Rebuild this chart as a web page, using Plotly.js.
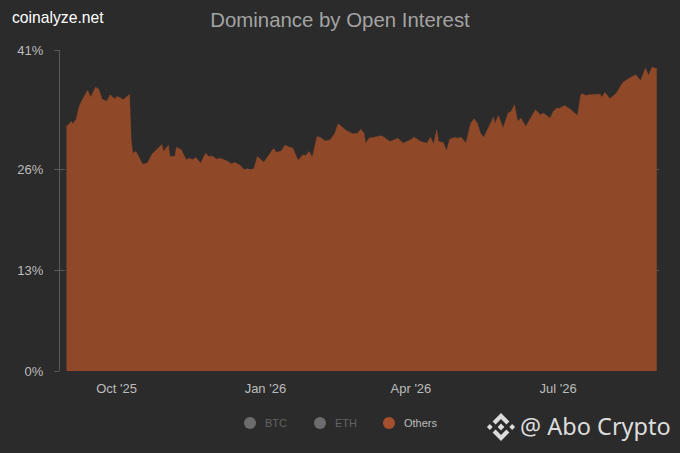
<!DOCTYPE html>
<html>
<head>
<meta charset="utf-8">
<script src="https://cdn.plot.ly/plotly-3.0.1.min.js"></script>
<style>html,body{margin:0;padding:0;background:#2b2b2b;overflow:hidden}</style>
</head>
<body>
<div id="chart" style="width:680px;height:453px"></div>
<script>
const startDate = '2025-08-31';
const dayOffsets = [0,1,3,4,6,8,10,13,15,18,20,22,25,27,30,31,33,35,39,40,41,43,47,50,53,59,60,63,64,67,68,71,74,76,78,80,83,86,88,90,93,95,99,102,104,107,110,112,114,116,118,122,128,130,133,135,138,140,143,144,146,148,150,152,155,157,160,163,166,168,173,177,180,182,184,185,187,190,195,200,205,208,212,215,219,223,225,227,229,230,233,235,237,240,242,244,247,250,252,254,256,258,264,265,267,270,273,275,277,279,281,284,290,293,295,299,301,303,305,308,312,316,318,319,321,323,327,330,331,333,336,340,344,348,352,355,358,360,362,365];
const othersShare = [31.69,31.78,32.26,31.95,32.56,34.28,35.14,36.27,35.40,36.70,36.44,35.14,34.89,35.70,35.14,35.49,35.36,35.06,35.75,29.88,28.16,28.37,26.74,26.86,28.07,29.28,28.37,29.19,27.73,27.73,28.93,28.59,27.30,27.51,27.30,27.60,26.86,28.16,27.73,27.81,27.38,27.51,27.17,26.78,26.95,26.65,26.00,26.17,25.92,26.22,27.73,26.99,28.76,28.24,28.46,29.19,28.93,28.81,27.30,27.38,27.94,27.86,28.37,27.64,30.31,30.19,29.75,29.88,30.75,31.95,31.09,30.66,30.75,31.26,30.75,29.37,30.10,30.23,30.40,29.67,30.10,29.45,29.80,30.23,29.67,29.45,30.23,29.32,31.18,29.67,29.54,28.46,29.97,30.19,30.10,30.23,29.45,32.04,32.60,32.04,30.75,30.19,32.82,31.95,33.03,31.39,33.33,33.55,34.41,32.26,32.69,31.61,33.76,33.12,33.33,32.69,33.55,33.98,33.98,34.33,33.76,33.03,35.70,35.83,35.62,35.70,35.70,35.79,35.40,36.01,35.19,35.92,37.30,37.86,38.29,37.52,39.15,38.21,39.28,39.07];
const seriesNames = ['BTC','ETH','Others'];
const yTickVals = [0,13,26,41.5];
const yTickText = ['0%','13%','26%','41%'];
const xTickVals = ['2025-10-01','2026-01-01','2026-04-01','2026-07-01'];
const xTickText = ["Oct '25","Jan '26","Apr '26","Jul '26"];

const dates = dayOffsets.map(d => new Date(Date.parse(startDate + 'T00:00:00Z') + d*864e5).toISOString().slice(0,10));
const W = 680, H = 453, L = 60, R = 20, T = 50, B = 82;
const px = x => (x - L) / (W - L - R);
const py = y => 1 - (y - T) / (H - T - B);
const FONT = '"Liberation Sans", Arial, sans-serif';

function poly(points, cx, cy) {
  return 'M' + points.map(p => px(cx + p[0]).toFixed(5) + ',' + py(cy + p[1]).toFixed(5)).join('L') + 'Z';
}
const lc = [501, 427];
const logoPolys = [
  [[0,-3.4],[3.4,0],[0,3.4],[-3.4,0]],
  [[-11.2,-2.9],[-8.3,0],[-11.2,2.9],[-14.1,0]],
  [[11.2,-2.9],[14.1,0],[11.2,2.9],[8.3,0]],
  [[0,-14],[8.4,-5.6],[5.4,-2.6],[0,-8],[-5.4,-2.6],[-8.4,-5.6]],
  [[0,14],[8.4,5.6],[5.4,2.6],[0,8],[-5.4,2.6],[-8.4,5.6]]
];
const logoShapes = logoPolys.map(p => ({
  type:'path', xref:'paper', yref:'paper', path: poly(p, lc[0], lc[1]),
  fillcolor:'#dcdcdc', line:{width:0}, layer:'above'
}));

const legendX = [250, 320, 389];
const legendY = 423;
const legendMarkerColors = ['#6c6c6c','#6c6c6c','#a5502c'];
const legendTextColors = ['#636363','#636363','#bcbcbc'];
const legendShapes = seriesNames.map((n,i) => ({
  type:'circle', xref:'paper', yref:'paper',
  x0:px(legendX[i]-6), x1:px(legendX[i]+6), y0:py(legendY+6), y1:py(legendY-6),
  fillcolor:legendMarkerColors[i], line:{width:0}
}));
const legendTexts = seriesNames.map((n,i) => ({
  xref:'paper', yref:'paper', x:px(legendX[i]+13), y:py(legendY), xanchor:'left', yanchor:'middle',
  showarrow:false, text:n, font:{family:FONT, size:11, color:legendTextColors[i]}
}));

const traces = [
  {x:dates, y:othersShare, name:seriesNames[2], type:'scatter', mode:'lines', fill:'tozeroy', fillcolor:'#8f4828',
   line:{color:'#8f4828', width:0.5, shape:'linear'}, showlegend:false, hoverinfo:'x+y'}
];

const layout = {
  width:W, height:H,
  paper_bgcolor:'#2b2b2b', plot_bgcolor:'#2b2b2b',
  margin:{l:L, r:R, t:T, b:B, pad:0},
  font:{family:FONT, color:'#bdbdbd', size:13},
  showlegend:false,
  title:{text:'Dominance by Open Interest', font:{family:FONT, size:20.4, color:'#a3a3a3'},
         x:340/W, xanchor:'center', y:1-20/H, yanchor:'middle'},
  xaxis:{type:'date', range:['2025-08-27','2026-09-02'], tickmode:'array', tickvals:xTickVals, ticktext:xTickText,
         showgrid:false, zeroline:false, showline:false, ticks:'', tickfont:{size:13, color:'#bdbdbd'}, ticklabelstandoff:8},
  yaxis:{range:[0,41.5], tickmode:'array', tickvals:yTickVals, ticktext:yTickText,
         showgrid:true, gridcolor:'#555555', griddash:'5px,4px', gridwidth:1, zeroline:false,
         showline:true, linecolor:'#595959', linewidth:1, ticks:'outside', ticklen:5, tickcolor:'#595959',
         tickfont:{size:13, color:'#bdbdbd'}, ticklabelstandoff:8},
  shapes:logoShapes.concat(legendShapes),
  annotations:[
    {xref:'paper', yref:'paper', x:px(10), y:py(17), xanchor:'left', yanchor:'middle', showarrow:false,
     text:'coinalyze.net', font:{family:FONT, size:15.7, color:'#ffffff'}},
    {xref:'paper', yref:'paper', x:px(673), y:py(426), xanchor:'right', yanchor:'middle', showarrow:false,
     text:'@ Abo Crypto', font:{family:'"Noto Sans", sans-serif', size:23.5, color:'#dcdcdc'}}
  ].concat(legendTexts)
};
Plotly.newPlot('chart', traces, layout, {displayModeBar:false});
</script>
</body>
</html>
